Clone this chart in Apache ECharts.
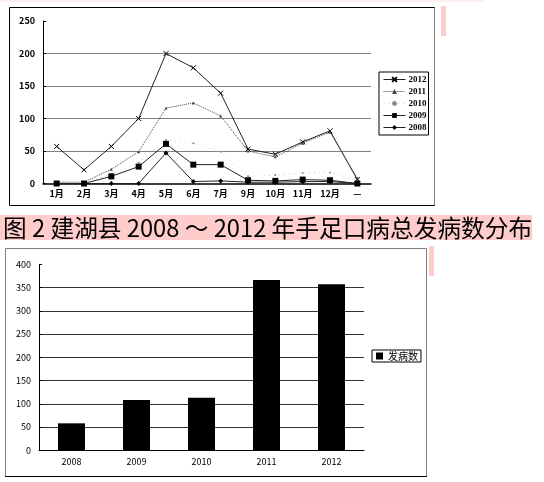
<!DOCTYPE html>
<html>
<head>
<meta charset="utf-8">
<script src="https://cdn.jsdelivr.net/npm/echarts@6/dist/echarts.min.js"></script>
<style>
  html, body { margin: 0; padding: 0; background: #fff; }
  #chart { width: 544px; height: 482px; }
</style>
</head>
<body>
<div id="chart"></div>
<script>
// monthly cases
const months = ['1月', '2月', '3月', '4月', '5月', '6月', '7月', '9月', '10月', '11月', '12月', '—'];
const cases2012 = [57, 21, 57, 100, 200, 178, 139, 53, 45, 64, 81, 6];
const cases2011 = [2, 2, 22, 49, 116, 124, 104, 50, 41, 62, 79, 8];
const cases2010 = [2, 2, 14, 32, 67, 62, 49, 11, 13, 16, 17, 3];
const cases2009 = [0, 0, 11, 26, 61, 29, 29, 5, 4, 6, 5, 0];
const cases2008 = [0, 0, 0, 0, 47, 3, 4, 2, 2, 3, 3, 0];

// yearly totals
const years = ['2008', '2009', '2010', '2011', '2012'];
const totals = [58, 108, 113, 366, 357];

const titleText = '图 2 建湖县 2008 ～ 2012 年手足口病总发病数分布';

const chart = echarts.init(document.getElementById('chart'));

const labelFont = { fontSize: 9, color: '#000', fontFamily: 'Noto Sans CJK SC', fontWeight: 'bold' };
const cross = 'path://M0,0L10,10M10,0L0,10';

chart.setOption({
  animation: false,
  graphic: [
    // faint highlight marks from the page
    { type: 'rect', shape: { x: 0, y: 0, width: 484, height: 2 }, style: { fill: '#fff0f0' } },
    { type: 'rect', shape: { x: 441, y: 6, width: 5, height: 30 }, style: { fill: '#ffcccc' } },
    { type: 'rect', shape: { x: 429, y: 246, width: 5, height: 30 }, style: { fill: '#ffcccc' } },
    // frame of the line chart
    { type: 'rect', shape: { x: 9.5, y: 7.5, width: 425, height: 198 }, style: { fill: 'none', stroke: '#000', lineWidth: 1 } },
    { type: 'line', shape: { x1: 434.5, y1: 8, x2: 434.5, y2: 205 }, style: { stroke: '#808080', lineWidth: 1 } },
    // title band
    { type: 'rect', shape: { x: 0, y: 215, width: 532, height: 25 }, style: { fill: '#ffcccc' } },
    { type: 'text', x: 3, y: 228, style: { text: titleText, font: '23.7px "Noto Sans CJK SC"', fill: '#000', verticalAlign: 'middle' } },
    // frame of the bar chart
    { type: 'rect', shape: { x: 5.5, y: 248.5, width: 421, height: 228 }, style: { fill: 'none', stroke: '#808080', lineWidth: 1 } },
    { type: 'line', shape: { x1: 5, y1: 476.5, x2: 427, y2: 476.5 }, style: { stroke: '#000', lineWidth: 1 } }
  ],
  legend: [
    {
      orient: 'vertical',
      left: 379,
      top: 72,
      data: ['2012', '2011', '2010', '2009', '2008'],
      itemWidth: 22,
      itemHeight: 6,
      itemGap: 3,
      padding: [3, 2, 3, 4],
      borderColor: '#000',
      borderWidth: 1,
      lineStyle: { width: 1 },
      textStyle: { fontSize: 9, color: '#000', fontFamily: 'Liberation Serif', fontWeight: 'bold', lineHeight: 9, padding: [0, 0, 0, -2] }
    },
    {
      left: 372,
      top: 350,
      data: ['发病数'],
      icon: 'rect',
      itemWidth: 7,
      itemHeight: 7,
      padding: [1, 3, 1, 4],
      borderColor: '#000',
      borderWidth: 1,
      textStyle: { fontSize: 10, color: '#000', fontFamily: 'Noto Sans CJK SC' }
    }
  ],
  grid: [
    { left: 43, top: 21, width: 328, height: 162.5 },
    { left: 39, top: 264.3, width: 325, height: 186 }
  ],
  xAxis: [
    {
      gridIndex: 0,
      type: 'category',
      data: months,
      axisLine: { lineStyle: { color: '#000', width: 1.5 } },
      axisTick: { inside: true, length: 3, lineStyle: { color: '#000' } },
      axisLabel: Object.assign({ margin: 6 }, labelFont)
    },
    {
      gridIndex: 1,
      type: 'category',
      data: years,
      axisLine: { lineStyle: { color: '#000' } },
      axisTick: { inside: true, length: 3, lineStyle: { color: '#666' } },
      axisLabel: Object.assign({ margin: 7 }, labelFont, { fontWeight: 'normal' })
    }
  ],
  yAxis: [
    {
      gridIndex: 0,
      type: 'value',
      min: 0,
      max: 250,
      interval: 50,
      axisLine: { show: true, lineStyle: { color: '#000' } },
      axisTick: { show: true, inside: true, length: 3, lineStyle: { color: '#000' } },
      axisLabel: Object.assign({ margin: 8 }, labelFont),
      splitLine: { showMinLine: false, showMaxLine: false, lineStyle: { color: '#808080' } }
    },
    {
      gridIndex: 1,
      type: 'value',
      min: 0,
      max: 400,
      interval: 50,
      axisLine: { show: true, lineStyle: { color: '#000' } },
      axisTick: { show: true, inside: true, length: 3, lineStyle: { color: '#000' } },
      axisLabel: Object.assign({ margin: 8 }, labelFont, { fontWeight: 'normal' }),
      splitLine: { showMinLine: false, showMaxLine: false, lineStyle: { color: '#333' } }
    }
  ],
  series: [
    {
      name: '2012',
      type: 'line',
      xAxisIndex: 0,
      yAxisIndex: 0,
      data: cases2012,
      symbol: cross,
      symbolSize: 5,
      itemStyle: { color: '#000', borderColor: '#000', borderWidth: 1 },
      lineStyle: { color: '#222', width: 1 }
    },
    {
      name: '2011',
      type: 'line',
      xAxisIndex: 0,
      yAxisIndex: 0,
      data: cases2011,
      symbol: 'triangle',
      symbolSize: 3,
      itemStyle: { color: '#444', borderWidth: 0 },
      lineStyle: { color: '#444', width: 1, type: 'dotted' }
    },
    {
      name: '2010',
      type: 'line',
      xAxisIndex: 0,
      yAxisIndex: 0,
      data: cases2010,
      symbol: 'circle',
      symbolSize: 2,
      itemStyle: { color: '#888', borderWidth: 0 },
      lineStyle: { color: '#ccc', width: 1, type: [1, 4] }
    },
    {
      name: '2009',
      type: 'line',
      xAxisIndex: 0,
      yAxisIndex: 0,
      data: cases2009,
      symbol: 'rect',
      symbolSize: 6,
      itemStyle: { color: '#000', borderWidth: 0 },
      lineStyle: { color: '#222', width: 1 }
    },
    {
      name: '2008',
      type: 'line',
      xAxisIndex: 0,
      yAxisIndex: 0,
      data: cases2008,
      symbol: 'diamond',
      symbolSize: 5,
      itemStyle: { color: '#000', borderWidth: 0 },
      lineStyle: { color: '#222', width: 1 }
    },
    {
      name: '发病数',
      type: 'bar',
      xAxisIndex: 1,
      yAxisIndex: 1,
      data: totals,
      barWidth: 27,
      itemStyle: { color: '#000' }
    }
  ]
});
</script>
</body>
</html>
